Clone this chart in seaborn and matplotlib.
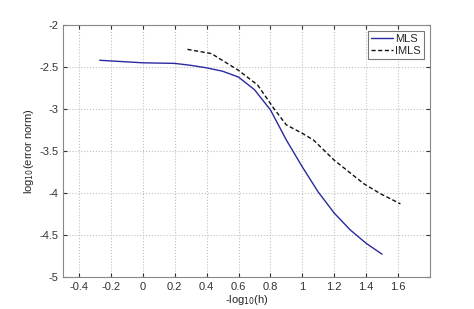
import matplotlib
matplotlib.use("Agg")
import matplotlib.pyplot as plt
import seaborn as sns
import pandas as pd

mls_x = [-0.27, 0.0, 0.2, 0.3, 0.4, 0.5, 0.6, 0.7, 0.8, 0.9, 1.0, 1.1, 1.2, 1.3, 1.4, 1.5]
mls_y = [-2.42, -2.45, -2.457, -2.48, -2.51, -2.55, -2.62, -2.77, -3.01, -3.37, -3.69, -3.99, -4.24, -4.44, -4.60, -4.73]
imls_x = [0.28, 0.43, 0.6, 0.72, 0.82, 0.9, 1.0, 1.07, 1.2, 1.385, 1.49, 1.615]
imls_y = [-2.29, -2.34, -2.54, -2.715, -2.99, -3.19, -3.29, -3.37, -3.61, -3.89, -4.01, -4.13]
xticks = [-0.4, -0.2, 0, 0.2, 0.4, 0.6, 0.8, 1, 1.2, 1.4, 1.6]
yticks = [-5, -4.5, -4, -3.5, -3, -2.5, -2]

sns.set_style("white")
plt.rcParams['font.family'] = ['Liberation Sans', 'DejaVu Sans']

df = pd.concat([
    pd.DataFrame({"x": mls_x, "y": mls_y, "series": "MLS"}),
    pd.DataFrame({"x": imls_x, "y": imls_y, "series": "IMLS"}),
], ignore_index=True)

fig = plt.figure(figsize=(4.74, 3.09), dpi=100)
ax = fig.add_axes([0.133, 0.104, 0.774, 0.815])
sns.lineplot(data=df, x="x", y="y", hue="series", style="series",
             palette={"MLS": "#2a2aa0", "IMLS": "#111111"},
             dashes={"MLS": "", "IMLS": (3, 1.8)}, sort=False,
             linewidth=1.0, ax=ax, estimator=None)
ax.set_xlim(-0.5, 1.8)
ax.set_ylim(-5, -2)
ax.set_xticks(xticks)
ax.set_xticklabels([f"{t:g}" for t in xticks])
ax.set_yticks(yticks)
ax.set_yticklabels([f"{t:g}" for t in yticks])
ax.grid(True, linestyle=":", color="#c0c0c0", linewidth=0.8)
for s in ax.spines.values():
    s.set_color("#888888")
    s.set_linewidth(0.8)
ax.tick_params(direction="in", length=3, labelsize=8, colors="#333333",
               top=True, right=True, bottom=True, left=True)
ax.set_xlabel(r"-log$_{10}$(h)", fontsize=8, labelpad=1)
ax.set_ylabel(r"log$_{10}$(error norm)", fontsize=8, labelpad=2)
leg = ax.legend(title=None, loc="upper right", fontsize=8, frameon=True,
                fancybox=False, handlelength=2.0, borderpad=0.3,
                labelspacing=0.2, handletextpad=0.2, borderaxespad=0.5)
leg.get_frame().set_edgecolor("#555555")
leg.get_frame().set_linewidth(0.8)
fig.savefig("out.png", dpi=100)
